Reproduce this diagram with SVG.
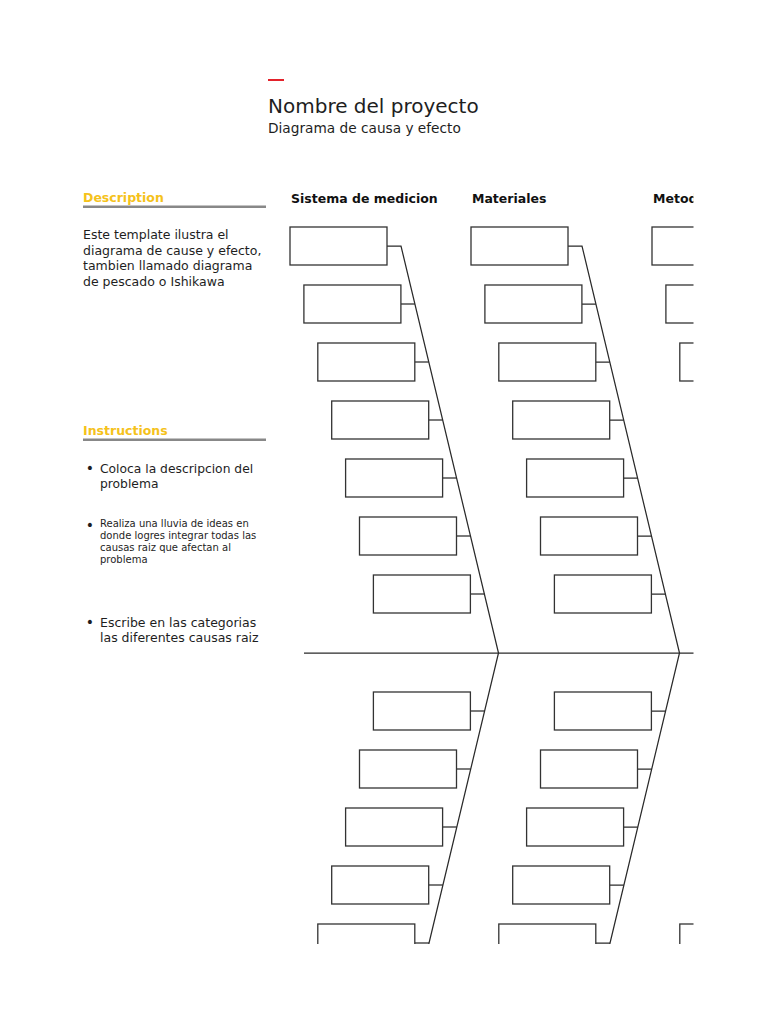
<svg xmlns="http://www.w3.org/2000/svg" width="768" height="1024" viewBox="0 0 768 1024">
<style>
text{font-family:"DejaVu Sans","Liberation Sans",sans-serif;fill:#1e1e1e}
.hd{font-weight:bold;font-size:12.5px;fill:#f5c21b}
.cat{font-weight:bold;font-size:12.5px;fill:#111}
.body{font-size:12.5px}
.small{font-size:10px}
.bul{font-size:14px}
.box{fill:#fff;stroke:#333;stroke-width:1.3}
.ln{fill:none;stroke:#2a2a2a;stroke-width:1.25}
.rule{fill:#888}
</style>
<defs>
<clipPath id="clip"><rect x="0" y="0" width="693.5" height="944"/></clipPath>
</defs>
<rect width="768" height="1024" fill="#fff"/>

<g id="header">
<rect x="268" y="79" width="16" height="2" fill="#e3222b"/>
<text x="268" y="113" font-size="20">Nombre del proyecto</text>
<text x="268" y="133" font-size="13.7">Diagrama de causa y efecto</text>
</g>

<g id="description">
<text class="hd" x="83" y="202">Description</text>
<rect class="rule" x="83" y="205.5" width="183" height="2.5"/>
<text class="body"><tspan x="83" y="239">Este template ilustra el</tspan><tspan x="83" y="254.5">diagrama de cause y efecto,</tspan><tspan x="83" y="270">tambien llamado diagrama</tspan><tspan x="83" y="285.5">de pescado o Ishikawa</tspan></text>
</g>

<g id="instructions">
<text class="hd" x="83" y="435">Instructions</text>
<rect class="rule" x="83" y="438.5" width="183" height="2.5"/>
<text class="bul" x="90" y="473.3" text-anchor="middle">•</text>
<text font-size="12.3"><tspan x="100" y="473">Coloca la descripcion del</tspan><tspan x="100" y="487.5">problema</tspan></text>
<text class="bul" x="90" y="530" text-anchor="middle">•</text>
<text class="small"><tspan x="100" y="527.3">Realiza una lluvia de ideas en</tspan><tspan x="100" y="539.3">donde logres integrar todas las</tspan><tspan x="100" y="551.3">causas raiz que afectan al</tspan><tspan x="100" y="563.3">problema</tspan></text>
<text class="bul" x="90" y="627" text-anchor="middle">•</text>
<text font-size="12.5"><tspan x="100" y="627.3">Escribe en las categorias</tspan><tspan x="100" y="641.7">las diferentes causas raiz</tspan></text>
</g>

<g id="diagram" clip-path="url(#clip)">
<g id="categories">
<text class="cat" x="291" y="203">Sistema de medicion</text>
<text class="cat" x="472" y="203">Materiales</text>
<text class="cat" x="653" y="203">Metodos</text>
</g>

<g id="connectors">
<line class="ln" x1="304" y1="653" x2="700" y2="653"/>
<!-- column 1 -->
<polyline class="ln" points="387,246 401,246 498.5,653 428.8,944"/>
<line class="ln" x1="400.9" y1="304" x2="414.9" y2="304"/>
<line class="ln" x1="414.8" y1="362" x2="428.8" y2="362"/>
<line class="ln" x1="428.7" y1="420" x2="442.7" y2="420"/>
<line class="ln" x1="442.6" y1="478" x2="456.6" y2="478"/>
<line class="ln" x1="456.5" y1="536" x2="470.5" y2="536"/>
<line class="ln" x1="470.4" y1="594" x2="484.4" y2="594"/>
<line class="ln" x1="470.4" y1="711" x2="484.6" y2="711"/>
<line class="ln" x1="456.5" y1="769" x2="470.7" y2="769"/>
<line class="ln" x1="442.6" y1="827" x2="456.8" y2="827"/>
<line class="ln" x1="428.7" y1="885" x2="442.9" y2="885"/>
<line class="ln" x1="414.8" y1="943" x2="429" y2="943"/>
<!-- column 2 -->
<polyline class="ln" points="568,246 582,246 679.5,653 609.8,944"/>
<line class="ln" x1="581.9" y1="304" x2="595.9" y2="304"/>
<line class="ln" x1="595.8" y1="362" x2="609.8" y2="362"/>
<line class="ln" x1="609.7" y1="420" x2="623.7" y2="420"/>
<line class="ln" x1="623.6" y1="478" x2="637.6" y2="478"/>
<line class="ln" x1="637.5" y1="536" x2="651.5" y2="536"/>
<line class="ln" x1="651.4" y1="594" x2="665.4" y2="594"/>
<line class="ln" x1="651.4" y1="711" x2="665.6" y2="711"/>
<line class="ln" x1="637.5" y1="769" x2="651.7" y2="769"/>
<line class="ln" x1="623.6" y1="827" x2="637.8" y2="827"/>
<line class="ln" x1="609.7" y1="885" x2="623.9" y2="885"/>
<line class="ln" x1="595.8" y1="943" x2="610" y2="943"/>
</g>

<g id="col-sistema">
<g id="sm-u1"><rect class="box" x="290" y="227" width="97" height="38"/></g>
<g id="sm-u2"><rect class="box" x="303.9" y="285" width="97" height="38"/></g>
<g id="sm-u3"><rect class="box" x="317.8" y="343" width="97" height="38"/></g>
<g id="sm-u4"><rect class="box" x="331.7" y="401" width="97" height="38"/></g>
<g id="sm-u5"><rect class="box" x="345.6" y="459" width="97" height="38"/></g>
<g id="sm-u6"><rect class="box" x="359.5" y="517" width="97" height="38"/></g>
<g id="sm-u7"><rect class="box" x="373.4" y="575" width="97" height="38"/></g>
<g id="sm-l1"><rect class="box" x="373.4" y="692" width="97" height="38"/></g>
<g id="sm-l2"><rect class="box" x="359.5" y="750" width="97" height="38"/></g>
<g id="sm-l3"><rect class="box" x="345.6" y="808" width="97" height="38"/></g>
<g id="sm-l4"><rect class="box" x="331.7" y="866" width="97" height="38"/></g>
<g id="sm-l5"><rect class="box" x="317.8" y="924" width="97" height="38"/></g>
</g>

<g id="col-materiales">
<g id="ma-u1"><rect class="box" x="471" y="227" width="97" height="38"/></g>
<g id="ma-u2"><rect class="box" x="484.9" y="285" width="97" height="38"/></g>
<g id="ma-u3"><rect class="box" x="498.8" y="343" width="97" height="38"/></g>
<g id="ma-u4"><rect class="box" x="512.7" y="401" width="97" height="38"/></g>
<g id="ma-u5"><rect class="box" x="526.6" y="459" width="97" height="38"/></g>
<g id="ma-u6"><rect class="box" x="540.5" y="517" width="97" height="38"/></g>
<g id="ma-u7"><rect class="box" x="554.4" y="575" width="97" height="38"/></g>
<g id="ma-l1"><rect class="box" x="554.4" y="692" width="97" height="38"/></g>
<g id="ma-l2"><rect class="box" x="540.5" y="750" width="97" height="38"/></g>
<g id="ma-l3"><rect class="box" x="526.6" y="808" width="97" height="38"/></g>
<g id="ma-l4"><rect class="box" x="512.7" y="866" width="97" height="38"/></g>
<g id="ma-l5"><rect class="box" x="498.8" y="924" width="97" height="38"/></g>
</g>

<g id="col-metodos">
<g id="me-u1"><rect class="box" x="652" y="227" width="97" height="38"/></g>
<g id="me-u2"><rect class="box" x="665.9" y="285" width="97" height="38"/></g>
<g id="me-u3"><rect class="box" x="679.8" y="343" width="97" height="38"/></g>
<g id="me-l5"><rect class="box" x="679.8" y="924" width="97" height="38"/></g>
</g>
</g>
</svg>
